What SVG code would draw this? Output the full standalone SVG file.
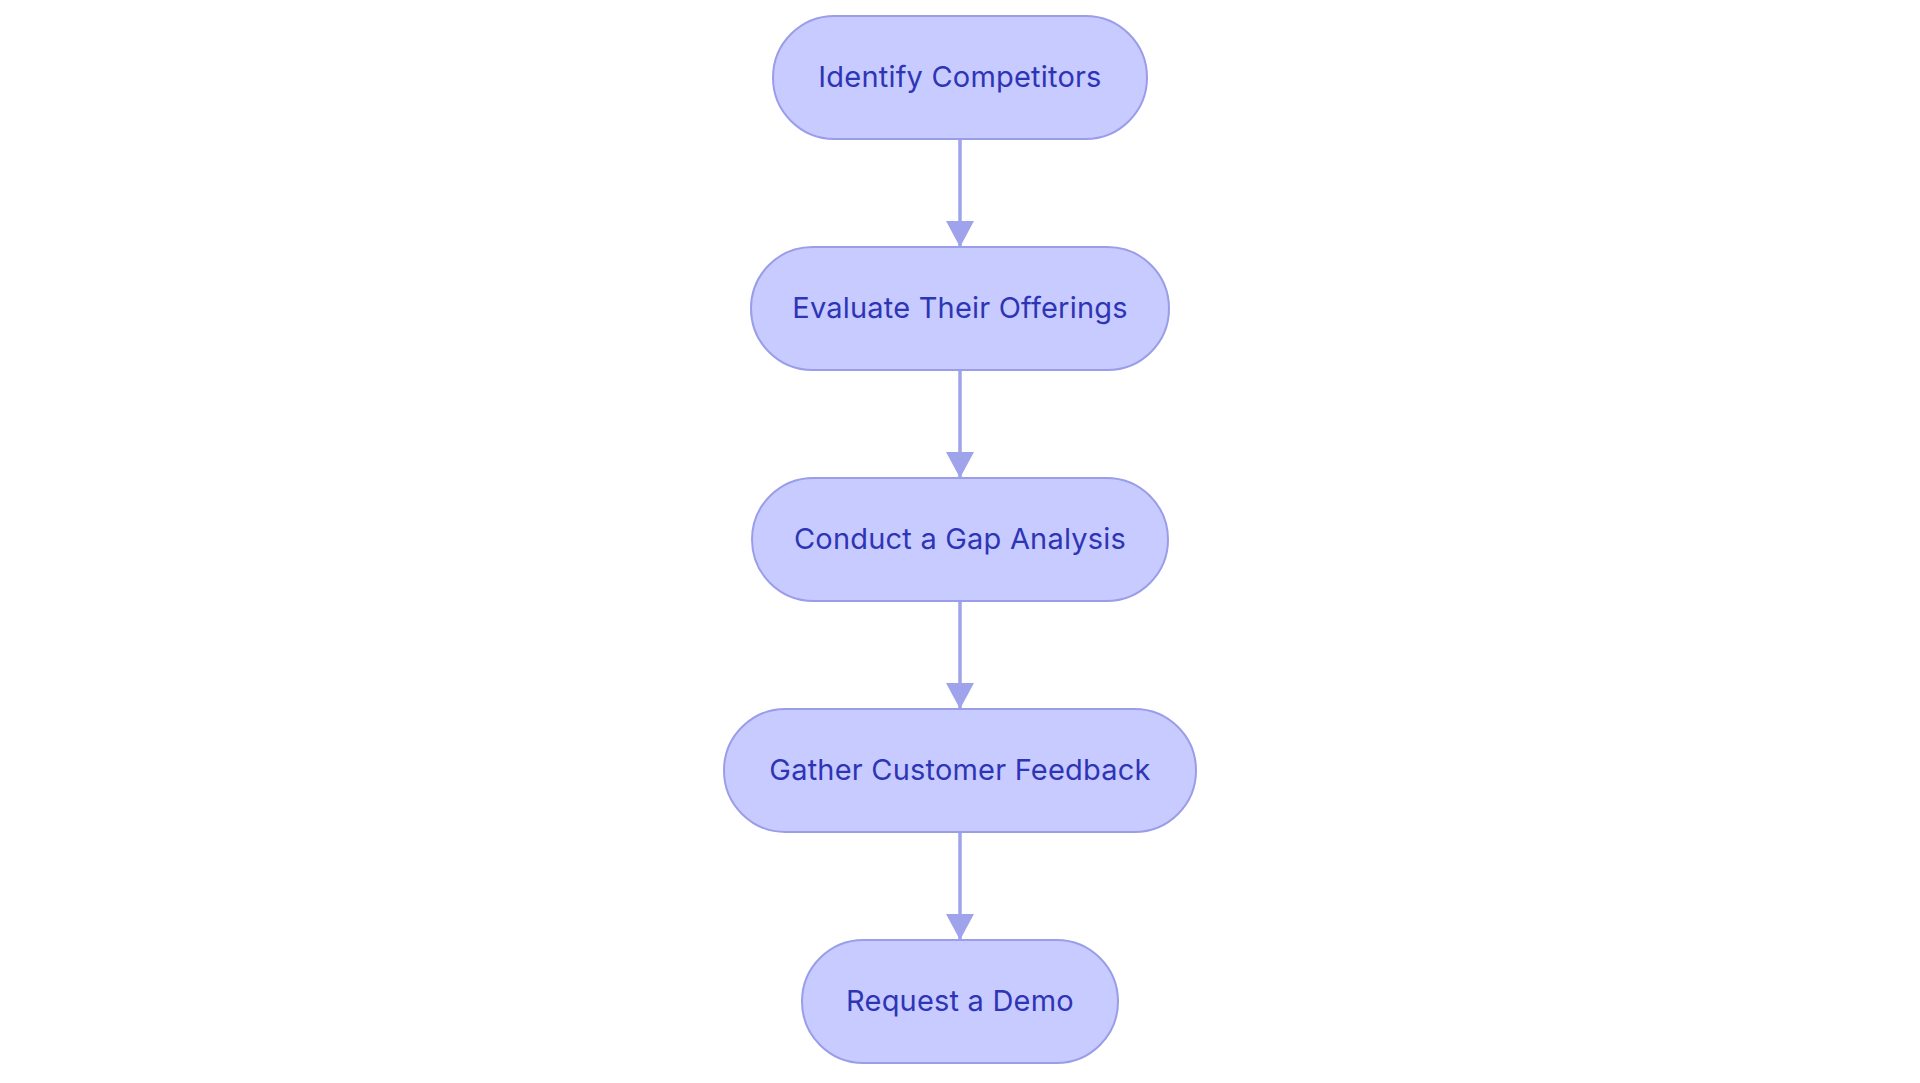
<svg xmlns="http://www.w3.org/2000/svg" width="1920" height="1083" viewBox="0 0 1920 1083">
<style>
.node rect{fill:#C8CBFF;stroke:#9A9DE8;stroke-width:2}
.node text{font-family:Inter,"Noto Sans","Liberation Sans",sans-serif;font-size:29px;fill:#2E35B5;text-anchor:middle;letter-spacing:0.2px}
.edge{stroke:#9FA3EB;stroke-width:3.5;fill:none}
</style>
<defs>
<marker id="ah" markerUnits="userSpaceOnUse" markerWidth="28" markerHeight="28" refX="26" refY="14" orient="auto" viewBox="0 0 28 28">
<path d="M0,0 L26,14 L0,28 Z" fill="#9FA3EB"/>
</marker>
</defs>
<rect width="1920" height="1083" fill="#FFFFFF"/>
<g id="connectors">
<line class="edge" x1="960" y1="139" x2="960" y2="247" marker-end="url(#ah)"/>
<line class="edge" x1="960" y1="370" x2="960" y2="478" marker-end="url(#ah)"/>
<line class="edge" x1="960" y1="601" x2="960" y2="709" marker-end="url(#ah)"/>
<line class="edge" x1="960" y1="832" x2="960" y2="940" marker-end="url(#ah)"/>
</g>
<g id="n1" class="node"><rect x="773" y="16" width="374" height="123" rx="61.5"/><text x="960" y="86.5">Identify Competitors</text></g>
<g id="n2" class="node"><rect x="751" y="247" width="418" height="123" rx="61.5"/><text x="960" y="317.5">Evaluate Their Offerings</text></g>
<g id="n3" class="node"><rect x="752" y="478" width="416" height="123" rx="61.5"/><text x="960" y="548.5">Conduct a Gap Analysis</text></g>
<g id="n4" class="node"><rect x="724" y="709" width="472" height="123" rx="61.5"/><text x="960" y="779.5">Gather Customer Feedback</text></g>
<g id="n5" class="node"><rect x="802" y="940" width="316" height="123" rx="61.5"/><text x="960" y="1010.5">Request a Demo</text></g>
</svg>
